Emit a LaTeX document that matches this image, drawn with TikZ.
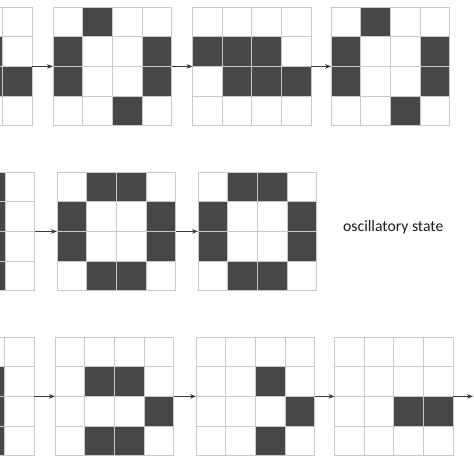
\documentclass[tikz,border=0pt]{standalone}
\usepackage{fontspec}
\setsansfont{Carlito}
\usetikzlibrary{arrows.meta}
\definecolor{cellfill}{HTML}{474747}
\definecolor{linefill}{HTML}{C9C9C9}
\definecolor{arrowfill}{HTML}{3A3A3A}
\definecolor{textfill}{HTML}{1C1C1C}
\newcommand{\cellsz}{29.7}
\newcommand{\board}[3]{%
  \node[board node] (#1) at (#2) {};
  \foreach \cx/\ry in {#3}
    \fill[cellfill] ([shift={({(\cx-1)*\cellsz},{-(\ry-1)*\cellsz})}]#1.north west) rectangle +(\cellsz,-\cellsz);
  \foreach \k in {0,...,4} {
    \draw[board line] ([xshift=\k*\cellsz pt]#1.north west) -- ([xshift=\k*\cellsz pt]#1.south west);
    \draw[board line] ([yshift=-\k*\cellsz pt]#1.north west) -- ([yshift=-\k*\cellsz pt]#1.north east);
  }}

\begin{document}
\begin{tikzpicture}[x=1pt,y=1pt,
    board node/.style={rectangle,inner sep=0pt,outer sep=0pt,anchor=north west,
      minimum width=4*\cellsz pt,minimum height=4*\cellsz pt},
    board line/.style={draw=linefill,line width=0.9pt},
    flow/.style={draw=arrowfill,line width=0.8pt,-{Stealth[length=6pt,width=4.5pt]}}]
  \path[use as bounding box] (0,0) rectangle (474,-474);
  \clip (0,0) rectangle (474,-474);
  \fill[white] (0,0) rectangle (474,-474);
  \board{a1}{-86.8,-7}{1/2,2/2,3/2,2/3,3/3,4/3}
  \board{a2}{53,-7}{2/1,1/2,4/2,1/3,4/3,3/4}
  \board{a3}{192.5,-7}{1/2,2/2,3/2,2/3,3/3,4/3}
  \board{a4}{331,-7}{2/1,1/2,4/2,1/3,4/3,3/4}
  \board{b1}{-84,-172}{3/1,3/2,3/3,3/4}
  \board{b2}{57,-172}{2/1,3/1,1/2,4/2,1/3,4/3,2/4,3/4}
  \board{b3}{198,-172}{2/1,3/1,1/2,4/2,1/3,4/3,2/4,3/4}
  \node[font=\sffamily\fontsize{15.7}{19}\selectfont,text=textfill,inner sep=0pt,
    anchor=base west] (osc) at (343,-231.7) {oscillatory state};
  \board{c1}{-84.8,-337}{3/2,3/3,3/4}
  \board{c2}{55,-337}{2/2,3/2,4/3,2/4,3/4}
  \board{c3}{196,-337}{3/2,4/3,3/4}
  \board{c4}{334.5,-337}{3/3,4/3}
  \coordinate (c5) at (473,-396.4);
  \path[flow]
    (a1) edge (a2)
    (a2) edge (a3)
    (a3) edge (a4)
    (b1) edge (b2)
    (b2) edge (b3)
    (c1) edge (c2)
    (c2) edge (c3)
    (c3) edge (c4)
    (c4) edge (c5);
\end{tikzpicture}
\end{document}
